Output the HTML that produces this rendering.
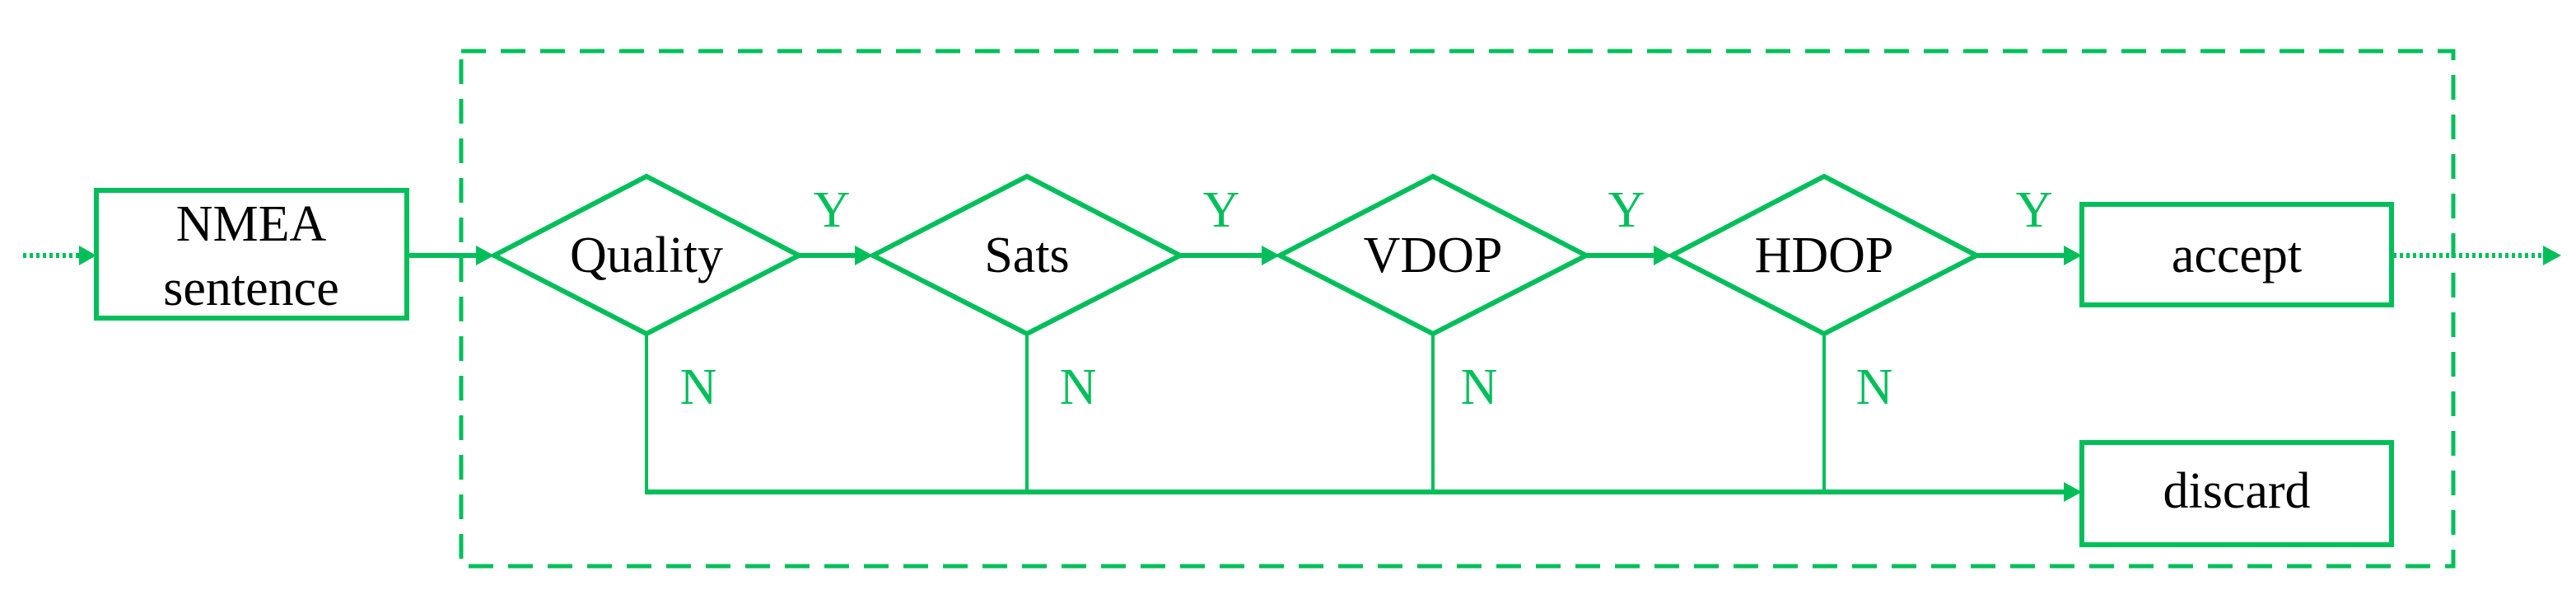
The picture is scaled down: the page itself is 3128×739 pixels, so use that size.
<!DOCTYPE html>
<html><head><meta charset="utf-8"><style>
html,body{margin:0;padding:0;background:#fff;}
svg{display:block;}
text{font-family:"Liberation Serif",serif;}
</style></head><body>
<svg width="3128" height="739" viewBox="0 0 3128 739" xmlns="http://www.w3.org/2000/svg">
<defs>
<marker id="ah" markerWidth="10" markerHeight="10" refX="9" refY="5" orient="auto" markerUnits="userSpaceOnUse" viewBox="0 0 10 10">
</marker>
</defs>
<g stroke="#00bf5a" fill="none" stroke-width="6">
<!-- dashed container -->
<rect x="560" y="62" width="2419" height="625" stroke-dasharray="30,18" stroke-width="5"/>
<!-- NMEA box -->
<rect x="117" y="231" width="377" height="155"/>
<!-- accept / discard -->
<rect x="2528" y="248" width="376" height="122"/>
<rect x="2528" y="537" width="376" height="124"/>
<!-- diamonds -->
<polygon points="600,310 785,214 970,310 785,405"/>
<polygon points="1060,310 1247,214 1433,310 1247,405"/>
<polygon points="1554,310 1740,214 1926,310 1740,405"/>
<polygon points="2030,310 2215,214 2400,310 2215,405"/>
<!-- Y connectors -->
<line x1="494" y1="310" x2="580" y2="310"/>
<line x1="970" y1="310" x2="1040" y2="310"/>
<line x1="1433" y1="310" x2="1534" y2="310"/>
<line x1="1926" y1="310" x2="2010" y2="310"/>
<line x1="2400" y1="310" x2="2508" y2="310"/>
<!-- N verticals -->
<line x1="785" y1="405" x2="785" y2="598" stroke-width="4"/>
<line x1="1247" y1="405" x2="1247" y2="598" stroke-width="4"/>
<line x1="1740" y1="405" x2="1740" y2="598" stroke-width="4"/>
<line x1="2215" y1="405" x2="2215" y2="598" stroke-width="4"/>
<line x1="783" y1="597" x2="2508" y2="597"/>
<!-- dotted -->
<line x1="28" y1="310" x2="98" y2="310" stroke-dasharray="4,4"/>
<line x1="2906" y1="310" x2="3090" y2="310" stroke-dasharray="4,4"/>
</g>
<g fill="#00bf5a">
<polygon points="96,298 117,310 96,322"/>
<polygon points="578,298 600,310 578,322"/>
<polygon points="1038,298 1060,310 1038,322"/>
<polygon points="1532,298 1554,310 1532,322"/>
<polygon points="2008,298 2030,310 2008,322"/>
<polygon points="2506,298 2528,310 2506,322"/>
<polygon points="2506,585 2528,597 2506,609"/>
<polygon points="3088,298 3110,310 3088,322"/>
</g>
<g font-size="62" text-anchor="middle" fill="#000">
<text x="305" y="292">NMEA</text>
<text x="305" y="370">sentence</text>
<text x="785" y="330">Quality</text>
<text x="1247" y="330">Sats</text>
<text x="1740" y="330">VDOP</text>
<text x="2215" y="330">HDOP</text>
<text x="2716" y="330">accept</text>
<text x="2716" y="616">discard</text>
</g>
<g font-size="62" text-anchor="middle" fill="#00bf5a">
<text x="1010" y="275">Y</text>
<text x="1483" y="275">Y</text>
<text x="1975" y="275">Y</text>
<text x="2470" y="275">Y</text>
<text x="848" y="490">N</text>
<text x="1309" y="490">N</text>
<text x="1796" y="490">N</text>
<text x="2276" y="490">N</text>
</g>
</svg>
</body></html>
